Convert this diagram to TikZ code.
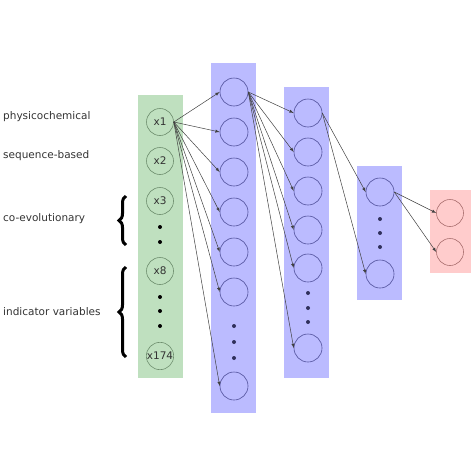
\documentclass[tikz,border=0pt]{standalone}
\usepackage{fontspec}
\setmainfont{DejaVu Sans}
\usepackage{xcolor}
\usepackage{tikz}
\usetikzlibrary{decorations.pathreplacing}

\definecolor{ingreen}{HTML}{BFE0BF}
\definecolor{hidblue}{HTML}{BBBBFF}
\definecolor{outred}{HTML}{FFCCCC}
\definecolor{ingreenline}{HTML}{6E8E6E}
\definecolor{hidblueline}{HTML}{50509A}
\definecolor{outredline}{HTML}{AA7070}
\definecolor{labelgray}{HTML}{333333}

\begin{document}
\begin{tikzpicture}[x=1pt, y=-1pt, >=latex]
    \tikzstyle{layer} = [rectangle, inner sep=0pt, minimum width=45pt]
    \tikzstyle{neuron} = [draw, circle, line width=0.6pt, inner sep=0pt, minimum size=28pt, font=\fontsize{10.5}{12}\selectfont, text=labelgray]
    \tikzstyle{inneuron} = [neuron, draw=ingreenline, minimum size=27pt]
    \tikzstyle{hidneuron} = [neuron, draw=hidblueline]
    \tikzstyle{outneuron} = [neuron, draw=outredline, minimum size=27pt]
    \tikzstyle{feature} = [anchor=west, inner sep=0pt, text=labelgray, font=\fontsize{10.5}{12}\selectfont]
    \tikzstyle{arrow} = [->, line width=0.5pt, draw=black!75]
    \tikzstyle{group} = [decorate, decoration={brace, amplitude=7pt}, line width=3pt]

    \useasboundingbox (0,0) rectangle (474,474);

    % layers
    \node[layer, fill=ingreen, minimum height=283pt] (inlayer) at (160.5,236) {};
    \node[layer, fill=hidblue, minimum height=350pt] (hidlayerA) at (233.5,238) {};
    \node[layer, fill=hidblue, minimum height=291pt] (hidlayerB) at (306.5,232.5) {};
    \node[layer, fill=hidblue, minimum height=134pt] (hidlayerC) at (379.5,233) {};
    \node[layer, fill=outred, minimum height=83pt, minimum width=41pt] (outlayer) at (450,231.5) {};

    % input features
    \node[inneuron] (x1) at (160,122) {x1};
    \node[inneuron] (x2) at (160,161) {x2};
    \node[inneuron] (x3) at (160,201) {x3};
    \node[inneuron] (x8) at (160,271) {x8};
    \node[inneuron] (x174) at (160,356) {x174};
    \foreach \y in {227,242,297,311,326}
        \fill (160,\y) circle (2pt);

    % first hidden layer
    \node[hidneuron] (hA1) at (234,92) {};
    \node[hidneuron] (hA2) at (234,132) {};
    \node[hidneuron] (hA3) at (234,172) {};
    \node[hidneuron] (hA4) at (234,212) {};
    \node[hidneuron] (hA5) at (234,252) {};
    \node[hidneuron] (hA6) at (234,292) {};
    \node[hidneuron] (hA7) at (234,386) {};
    \foreach \y in {326,342,358}
        \fill[hidblueline!60!black] (234,\y) circle (2pt);

    % second hidden layer
    \node[hidneuron] (hB1) at (308,113) {};
    \node[hidneuron] (hB2) at (308,152) {};
    \node[hidneuron] (hB3) at (308,191) {};
    \node[hidneuron] (hB4) at (308,230) {};
    \node[hidneuron] (hB5) at (308,268) {};
    \node[hidneuron] (hB6) at (308,348) {};
    \foreach \y in {293,308,322}
        \fill[hidblueline!60!black] (308,\y) circle (2pt);

    % third hidden layer
    \node[hidneuron] (hC1) at (380,192) {};
    \node[hidneuron] (hC2) at (380,274) {};
    \foreach \y in {219,233,247}
        \fill[hidblueline!60!black] (380,\y) circle (2pt);

    % output layer
    \node[outneuron] (out1) at (450,213) {};
    \node[outneuron] (out2) at (450,252) {};

    % feature groups
    \node[feature] (physchem) at (3,117) {physicochemical};
    \node[feature] (seqbased) at (3,156) {sequence-based};
    \node[feature] (coevol) at (3,219) {co-evolutionary};
    \node[feature] (indicator) at (3,312) {indicator variables};
    \draw[group] (126,245) -- (126,196);
    \draw[group] (126,357) -- (126,267);

    % connections
    \draw[arrow] (x1.east) -- (hA1.west);
    \draw[arrow] (x1.east) -- (hA2.west);
    \draw[arrow] (x1.east) -- (hA3.west);
    \draw[arrow] (x1.east) -- (hA4.west);
    \draw[arrow] (x1.east) -- (hA5.west);
    \draw[arrow] (x1.east) -- (hA6.west);
    \draw[arrow] (x1.east) -- (hA7.west);
    \draw[arrow] (hA1.east) -- (hB1.west);
    \draw[arrow] (hA1.east) -- (hB2.west);
    \draw[arrow] (hA1.east) -- (hB3.west);
    \draw[arrow] (hA1.east) -- (hB4.west);
    \draw[arrow] (hA1.east) -- (hB5.west);
    \draw[arrow] (hA1.east) -- (hB6.west);
    \draw[arrow] (hB1.east) -- (hC1.west);
    \draw[arrow] (hB1.east) -- (hC2.west);
    \draw[arrow] (hC1.east) -- (out1.west);
    \draw[arrow] (hC1.east) -- (out2.west);
\end{tikzpicture}
\end{document}
